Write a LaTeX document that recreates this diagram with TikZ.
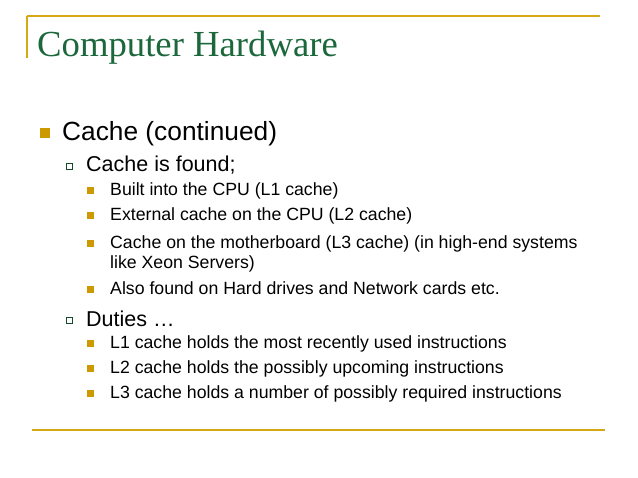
\documentclass[tikz,border=0pt]{standalone}
\usepackage{fontspec}
\setmainfont{Liberation Sans}
\newfontfamily\titlefont{Liberation Serif}
\definecolor{bulgold}{RGB}{204,153,0}
\definecolor{linegold}{RGB}{214,168,20}
\definecolor{tgreen}{RGB}{28,104,60}
\begin{document}
\begin{tikzpicture}[x=1pt,y=-1pt,
  lone/.style={anchor=base west,font=\fontsize{26.3}{30}\selectfont},
  ltwo/.style={anchor=base west,font=\fontsize{21.5}{25}\selectfont},
  lthree/.style={anchor=base west,font=\fontsize{17.7}{21}\selectfont,align=left},
  bfill/.style={fill=bulgold},
  bopen/.style={draw=tgreen!70!black,line width=0.7pt,fill=white},
  rule/.style={draw=linegold,line width=1.3pt}]
\useasboundingbox (0,0) rectangle (638,478);
\draw[rule] (27,16) -- (600,16);
\draw[rule] (27,16) -- (27,58);
\draw[rule] (32,430) -- (605,430);
\node[anchor=base west,inner sep=0,text=tgreen,font=\titlefont\fontsize{36.7}{42}\selectfont] (t) at (37,57) {Computer Hardware};
\fill[bfill] (40,128) rectangle (50,138);
\node[lone,inner sep=0] (a) at (62,141) {Cache (continued)};
\draw[bopen] (66,163) rectangle (72,169);
\node[ltwo,inner sep=0] (b) at (86,172) {Cache is found;};
\foreach \y/\t in {196/Built into the CPU (L1 cache),221/External cache on the CPU (L2 cache),249/Cache on the motherboard (L3 cache) (in high-end systems,295/Also found on Hard drives and Network cards etc.,349/L1 cache holds the most recently used instructions,374/L2 cache holds the possibly upcoming instructions,399/L3 cache holds a number of possibly required instructions}{
  \fill[bfill] (87,\y-9) rectangle (94,\y-2);
  \node[lthree,inner sep=0] at (110,\y) {\t};
}
\node[lthree,inner sep=0] (c) at (110,269) {like Xeon Servers)};
\draw[bopen] (66,317) rectangle (72,323);
\node[ltwo,inner sep=0] (d) at (86,327) {Duties …};
\end{tikzpicture}
\end{document}
